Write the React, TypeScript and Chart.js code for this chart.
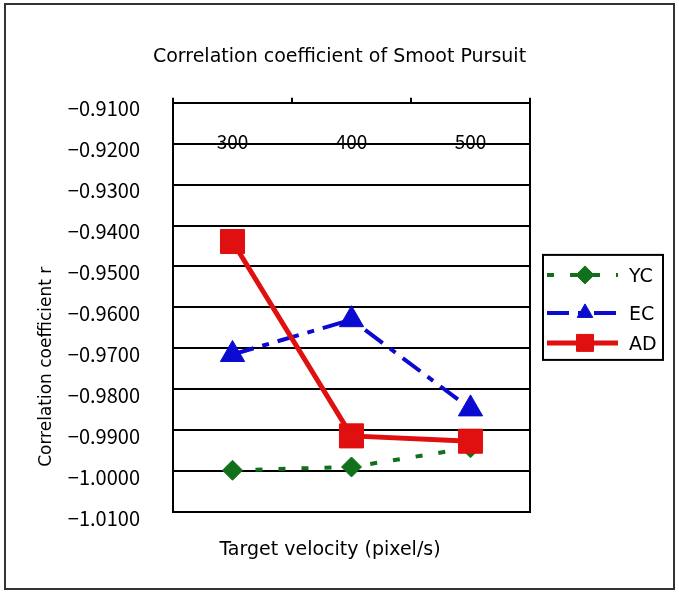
import { useRef, useEffect } from 'react';
import { Chart, registerables } from 'chart.js';
import { drawPoint } from 'chart.js/helpers';

Chart.register(...registerables);

// datos
const velocities = ['300', '400', '500'];
const ycValues = [-0.9998, -0.999, -0.9943];
const ecValues = [-0.9715, -0.963, -0.9848];
const adValues = [-0.9439, -0.9914, -0.9927];
const yTicks = [-0.91, -0.92, -0.93, -0.94, -0.95, -0.96, -0.97, -0.98, -0.99, -1.0, -1.01];

const NUM_FONT = '"Noto Sans CJK JP", "Noto Sans", sans-serif';
const TXT_FONT = '"DejaVu Sans", sans-serif';
const legendRadius = [9, 9, 12];

/** leyenda con caja, linea y marcador como en Excel */
const boxLegend = {
  id: 'boxLegend',
  afterDraw(chart: any) {
    const { ctx, chartArea } = chart;
    const w = 120;
    const h = 105;
    const left = chartArea.right + 13;
    const top = (chartArea.top + chartArea.bottom) / 2 - h / 2;
    const rows = [20, 58, 88];
    ctx.save();
    ctx.lineWidth = 2;
    ctx.strokeStyle = '#000';
    ctx.strokeRect(left, top, w, h);
    chart.data.datasets.forEach((ds: any, i: number) => {
      const y = top + rows[i];
      ctx.save();
      ctx.strokeStyle = ds.borderColor;
      ctx.lineWidth = ds.borderWidth;
      ctx.setLineDash(ds.borderDash || []);
      ctx.beginPath();
      ctx.moveTo(left + 4, y);
      ctx.lineTo(left + 75, y);
      ctx.stroke();
      ctx.restore();
      ctx.fillStyle = ds.backgroundColor;
      ctx.strokeStyle = ds.borderColor;
      ctx.lineWidth = 1;
      ctx.setLineDash([]);
      drawPoint(ctx, { pointStyle: ds.pointStyle, radius: legendRadius[i], borderWidth: 1, rotation: 0 } as any, left + 42, y);
      ctx.fillStyle = '#000';
      ctx.font = `19px ${TXT_FONT}`;
      ctx.textBaseline = 'middle';
      ctx.textAlign = 'left';
      ctx.fillText(ds.label, left + 86, y + 2);
    });
    ctx.restore();
  },
};

/** titulos de los ejes, colocados como en el original */
const axisTitles = {
  id: 'axisTitles',
  afterDraw(chart: any) {
    const { ctx, chartArea } = chart;
    ctx.save();
    ctx.fillStyle = '#000';
    ctx.textAlign = 'center';
    ctx.textBaseline = 'middle';
    ctx.font = `19px ${TXT_FONT}`;
    ctx.fillText('Target velocity (pixel/s)', chartArea.left + 157, chartArea.bottom + 38);
    ctx.translate(chartArea.left - 126, chartArea.top + 264);
    ctx.rotate(-Math.PI / 2);
    ctx.font = `17px ${TXT_FONT}`;
    ctx.fillText('Correlation coefficient r', 0, 0);
    ctx.restore();
  },
};

export default function App() {
  const canvasRef = useRef<HTMLCanvasElement>(null);

  useEffect(() => {
    const canvas = canvasRef.current;
    if (!canvas) return;
    const context = canvas.getContext('2d');
    if (!context) return;

    const chart = new Chart(context, {
      type: 'line',
      data: {
        labels: velocities,
        datasets: [
          {
            label: 'YC',
            data: ycValues,
            borderColor: '#11701a',
            backgroundColor: '#11701a',
            borderWidth: 4,
            borderDash: [7, 16],
            pointStyle: 'rectRot',
            pointRadius: 10,
            pointBorderWidth: 1,
            order: 2,
          },
          {
            label: 'EC',
            data: ecValues,
            borderColor: '#0a0ad0',
            backgroundColor: '#0a0ad0',
            borderWidth: 4,
            borderDash: [22, 9, 7, 9],
            pointStyle: 'triangle',
            pointRadius: 14,
            pointBorderWidth: 1,
            order: 1,
          },
          {
            label: 'AD',
            data: adValues,
            borderColor: '#e01010',
            backgroundColor: '#e01010',
            borderWidth: 5,
            pointStyle: 'rect',
            pointRadius: 17,
            pointBorderWidth: 1,
            order: 0,
          },
        ],
      },
      options: {
        animation: false,
        responsive: false,
        layout: { padding: { bottom: 76 } },
        plugins: {
          legend: { display: false },
          tooltip: { enabled: false },
          title: {
            display: true,
            text: 'Correlation coefficient of Smoot Pursuit',
            color: '#000',
            font: { family: TXT_FONT, size: 19, weight: 'normal' },
            padding: { top: 41, bottom: 0 },
          },
        },
        scales: {
          x: {
            position: 'top',
            offset: true,
            grid: { offset: true, drawOnChartArea: false, tickLength: 5, color: '#000', lineWidth: 2 },
            border: { color: '#000', width: 2 },
            ticks: { mirror: true, padding: 28, color: '#000', font: { family: NUM_FONT, size: 19 } },
            afterFit: (s: any) => { s.height = 34; },
          },
          y: {
            position: 'left',
            min: -1.01,
            max: -0.91,
            afterBuildTicks: (s: any) => { s.ticks = yTicks.map((v) => ({ value: v })); },
            ticks: {
              padding: 33,
              labelOffset: 6,
              color: '#000',
              font: { family: NUM_FONT, size: 20 },
              callback: (v: any) => '\u2212' + Math.abs(Number(v)).toFixed(4),
            },
            grid: { color: '#000', lineWidth: 2, drawTicks: false },
            border: { color: '#000', width: 2 },
            afterFit: (s: any) => { s.width = 167; },
          },
          y2: {
            position: 'right',
            grid: { drawOnChartArea: false, drawTicks: false },
            ticks: { display: false },
            border: { color: '#000', width: 2 },
            afterFit: (s: any) => { s.width = 143; },
          },
        },
      },
      plugins: [boxLegend, axisTitles],
    });
    return () => {
      chart.destroy();
    };
  }, []);

  return (
    <div
      style={{
        position: 'fixed',
        left: 4,
        top: 3,
        width: 671,
        height: 587,
        border: '2px solid #333',
        boxSizing: 'border-box',
        background: '#fff',
      }}
    >
      <canvas ref={canvasRef} width={667} height={583} style={{ display: 'block' }} />
    </div>
  );
}
